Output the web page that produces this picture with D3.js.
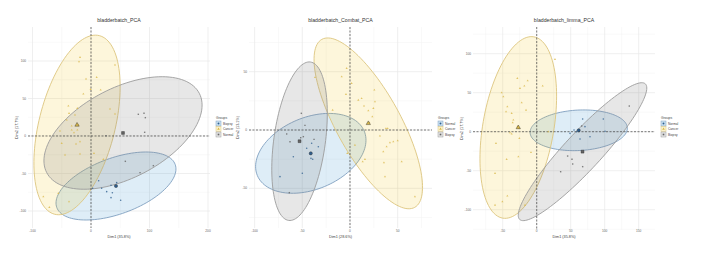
<!DOCTYPE html>
<html><head><meta charset="utf-8">
<script src="https://cdn.jsdelivr.net/npm/d3@7"></script>
<style>html,body{margin:0;padding:0;background:#fff;}svg{display:block;font-family:"Liberation Sans",Arial,sans-serif;}</style>
</head><body>
<svg id="chart" width="720" height="259"></svg>
<script>
// ---------------- DATA ----------------
const titles = ["bladderbatch_PCA", "bladderbatch_Combat_PCA", "bladderbatch_limma_PCA"];
const xAxisLabels = ["Dim1 (35.8%)", "Dim1 (28.6%)", "Dim1 (35.8%)"];
const yAxisLabels = ["Dim2 (17.7%)", "Dim2 (13.1%)", "Dim2 (17.7%)"];
const legendTitle = "Groups";
const groupNames = [["Biopsy", "Cancer", "Normal"], ["Normal", "Cancer", "Biopsy"], ["Normal", "Cancer", "Biopsy"]];
const groupColors = ["#0073C2", "#EFC000", "#868686"];

const xTicks = [[-100, 0, 100, 200], [-100, -50, 0, 50], [-50, 0, 50, 100, 150]];
const yTicks = [[-100, -50, 0, 50, 100], [-50, 0, 50], [-100, -50, 0, 50, 100]];
const xDomains = [[-107.7, 203.4], [-105.9, 86.0], [-93.7, 174.0]];
const yDomains = [[-122.7, 145.3], [-84.0, 88.3], [-126.0, 134.2]];

// plot 1 : group 0 blue, 1 yellow, 2 gray
const pca1_g0 = [[13.1,-59.6],[34.2,-65.8],[36.5,-75.6],[34.2,-82.2],[50.7,-85.8],[18.2,-69.8],[2.8,-69.8],[43.9,-62.2],[26.8,-74.2]];
const pca1_g1 = [[-18.8,104.9],[-20.5,99.1],[41.0,94.7],[-8.5,76.0],[9.7,78.2],[16.5,61.3],[-0.6,62.2],[-13.1,56.0],[-38.7,40.0],[-23.4,36.9],
  [32.5,36.0],[41.0,29.3],[-37.6,30.2],[-27.4,28.0],[-41.6,21.3],[-33.0,13.3],[-21.7,14.7],[-53.0,6.7],[-33.0,8.0],[-29.1,4.4],
  [-23.4,8.0],[-50.1,-9.8],[-25.6,-10.7],[-18.8,-7.6],[-44.4,-25.3],[-18.8,-24.0],[5.1,-23.1],[21.1,-31.1],[-81.5,-80.9],[-55.8,-76.4],
  [-71.2,-95.1],[-37.6,-87.6]];
const pca1_g2 = [[80.9,28.9],[90.6,30.2],[92.9,24.4],[91.7,4.9],[25.6,0.4],[58.7,-33.8],[106.6,-39.6],[83.8,-48.9]];
const pca1_centroids = [[42.7,-66.7],[-23.9,14.7],[54.7,4.0]];
// ellipses: centre and two conjugate semi-axis vectors, in data units
const pca1_ellipses = [
  {cx:42.7, cy:-66.7, ux:101.2, uy:28.7, vx:-16.4, vy:35.1},
  {cx:-23.9, cy:14.7, ux:38.1, uy:119.1, vx:-63.1, vy:12.3},
  {cx:54.7, cy:4.0, ux:130.4, uy:52.9, vx:-35.6, vy:53.2}];

// plot 2
const pca2_g0 = [[-40.9,-24.3],[-39.1,-25.1],[-50.0,-37.1],[-73.4,-40.0],[-40.2,-11.4],[-41.9,-20.6],[-59.4,-22.9],[-45.4,-15.7],[-33.2,-14.3]];
const pca2_g1 = [[-36.7,45.1],[-8.7,45.7],[-3.5,52.9],[1.7,40.0],[-4.2,30.6],[12.2,27.1],[25.5,34.3],[26.2,24.3],[24.5,18.6],[14.7,20.6],
  [19.2,16.6],[23.4,11.4],[20.3,6.3],[37.7,1.4],[39.5,1.4],[31.4,-5.1],[41.9,-10.9],[45.4,-10.0],[50.0,-9.1],[38.4,-14.3],
  [34.9,-18.6],[54.2,-27.1],[35.6,-28.0],[15.7,-25.1],[13.3,-27.1],[36.7,-40.0],[68.1,-57.1],[5.2,-12.9],[-2.8,-20.0],[-18.2,17.1],[8.7,25.7]];
const pca2_g2 = [[-51.0,14.3],[-47.2,4.0],[-66.4,-3.4],[-62.9,-10.0],[-51.7,-6.6],[-48.9,-5.7],[-37.7,-8.0],[-63.6,-53.7]];
const pca2_centroids = [[-41.1,-20.0],[19.2,5.7],[-52.9,-9.6]];
const pca2_ellipses = [
  {cx:-41.1, cy:-20.0, ux:56.0, uy:19.1, vx:-14.6, vy:28.4},
  {cx:19.2, cy:5.7, ux:48.7, uy:-72.0, vx:29.4, vy:13.3},
  {cx:-52.9, cy:-9.6, ux:11.4, uy:67.9, vx:-26.8, vy:3.0}];

// plot 3
const pca3_g0 = [[67.6,16.3],[54.9,2.2],[98.0,16.3],[100.5,0.5],[63.7,-9.4],[58.8,0.0],[71.0,6.5],[49.0,-2.1],[78.4,-6.4]];
const pca3_g1 = [[26.9,92.8],[-28.5,68.4],[-13.3,65.4],[-18.2,58.6],[-51.5,50.0],[-49.1,44.9],[-24.6,55.6],[8.8,58.6],[-43.2,32.1],[-36.8,23.5],
  [-22.1,37.2],[-15.7,27.8],[-45.1,25.7],[-34.4,15.0],[-28.0,6.5],[-26.0,4.3],[-39.3,-1.2],[-36.8,-2.9],[-59.9,-14.9],[-25.5,-8.5],
  [-8.4,-26.5],[-44.2,-35.4],[-27.0,-32.0],[-61.3,-53.4],[-43.2,-82.4],[-50.5,-89.7],[-17.2,-94.0],[-61.3,-94.0],[17.1,0.0],[-35.3,11.6]];
const pca3_g2 = [[45.5,-31.2],[51.9,-35.4],[52.9,-41.4],[35.2,-51.3],[67.6,-44.8],[67.1,-25.6],[136.2,32.9],[66.1,7.3]];
const pca3_centroids = [[61.8,1.8],[-27.1,5.4],[67.4,-25.6]];
const pca3_ellipses = [
  {cx:61.8, cy:1.8, ux:71.5, uy:3.2, vx:-1.6, vy:25.9},
  {cx:-27.1, cy:5.4, ux:22.9, uy:116.2, vx:-51.5, vy:7.7},
  {cx:67.4, cy:-25.6, ux:92.4, uy:86.9, vx:-20.0, vy:16.2}];

// ---------------- LAYOUT ----------------
const boxes = [
  {left:28, right:210, top:27, bottom:228},
  {left:249, right:432, top:27, bottom:228},
  {left:473, right:655, top:27, bottom:230}];
const plots = [
  {groups:[pca1_g0, pca1_g1, pca1_g2], centroids:pca1_centroids, ellipses:pca1_ellipses},
  {groups:[pca2_g0, pca2_g1, pca2_g2], centroids:pca2_centroids, ellipses:pca2_ellipses},
  {groups:[pca3_g0, pca3_g1, pca3_g2], centroids:pca3_centroids, ellipses:pca3_ellipses}];
const shapes = [d3.symbolCircle, d3.symbolTriangle, d3.symbolSquare];
const fillOpacity = [0.13, 0.14, 0.2];
const strokeColors = ["#7f9fbf", "#dcc57e", "#9c9c9c"];
const pointColors = ["#2f5f8f", "#d9b84a", "#666666"];

const svg = d3.select("#chart");

plots.forEach((p, i) => {
  const b = boxes[i];
  const x = d3.scaleLinear().domain(xDomains[i]).range([b.left, b.right]);
  const y = d3.scaleLinear().domain(yDomains[i]).range([b.bottom, b.top]);
  const g = svg.append("g");

  const minor = (ticks, dom) => {
    const step = ticks[1] - ticks[0];
    const out = [];
    for (let v = ticks[0] - step / 2; v <= dom[1]; v += step) if (v >= dom[0]) out.push(v);
    return out;
  };
  g.selectAll(".vmin").data(minor(xTicks[i], xDomains[i])).join("line")
    .attr("x1", d => x(d)).attr("x2", d => x(d)).attr("y1", b.top).attr("y2", b.bottom)
    .attr("stroke", "#f3f3f3").attr("stroke-width", 0.5);
  g.selectAll(".hmin").data(minor(yTicks[i], yDomains[i])).join("line")
    .attr("y1", d => y(d)).attr("y2", d => y(d)).attr("x1", b.left).attr("x2", b.right)
    .attr("stroke", "#f3f3f3").attr("stroke-width", 0.5);
  g.selectAll(".vmaj").data(xTicks[i]).join("line")
    .attr("x1", d => x(d)).attr("x2", d => x(d)).attr("y1", b.top).attr("y2", b.bottom)
    .attr("stroke", "#e8e8e8").attr("stroke-width", 0.7);
  g.selectAll(".hmaj").data(yTicks[i]).join("line")
    .attr("y1", d => y(d)).attr("y2", d => y(d)).attr("x1", b.left).attr("x2", b.right)
    .attr("stroke", "#e8e8e8").attr("stroke-width", 0.7);

  const line = d3.line().x(d => x(d[0])).y(d => y(d[1])).curve(d3.curveLinearClosed);
  p.ellipses.forEach((e, k) => {
    const pts = d3.range(0, 120).map(j => {
      const t = j / 120 * 2 * Math.PI;
      return [e.cx + e.ux * Math.cos(t) + e.vx * Math.sin(t), e.cy + e.uy * Math.cos(t) + e.vy * Math.sin(t)];
    });
    g.append("path").attr("d", line(pts))
      .attr("fill", groupColors[k]).attr("fill-opacity", fillOpacity[k])
      .attr("stroke", strokeColors[k]).attr("stroke-width", 0.9);
  });

  g.append("line").attr("x1", x(0)).attr("x2", x(0)).attr("y1", b.top).attr("y2", b.bottom)
    .attr("stroke", "#444").attr("stroke-width", 0.7).attr("stroke-dasharray", "2,1.5");
  g.append("line").attr("y1", y(0)).attr("y2", y(0)).attr("x1", b.left).attr("x2", b.right)
    .attr("stroke", "#444").attr("stroke-width", 0.7).attr("stroke-dasharray", "2,1.5");

  p.groups.forEach((pts, k) => {
    g.selectAll(null).data(pts).join("path")
      .attr("transform", d => `translate(${x(d[0])},${y(d[1])})`)
      .attr("d", d3.symbol().type(shapes[k]).size(2))
      .attr("fill", pointColors[k]).attr("fill-opacity", 0.8);
  });
  p.centroids.forEach((c, k) => {
    g.append("path").attr("transform", `translate(${x(c[0])},${y(c[1])})`)
      .attr("d", d3.symbol().type(shapes[k]).size(8))
      .attr("fill", pointColors[k]).attr("stroke", "#222").attr("stroke-width", 0.4);
  });

  g.selectAll(".xt").data(xTicks[i]).join("text")
    .attr("x", d => x(d)).attr("y", 232).attr("text-anchor", "middle")
    .attr("font-size", 3.2).attr("fill", "#666").text(d => d);
  g.selectAll(".yt").data(yTicks[i]).join("text")
    .attr("x", b.left - 2).attr("y", d => y(d) + 1.1).attr("text-anchor", "end")
    .attr("font-size", 3.2).attr("fill", "#666").text(d => d);

  const cx = (b.left + b.right) / 2;
  g.append("text").attr("x", cx).attr("y", 22).attr("text-anchor", "middle")
    .attr("font-size", 5.2).attr("fill", "#333").text(titles[i]);
  g.append("text").attr("x", cx).attr("y", 238).attr("text-anchor", "middle")
    .attr("font-size", 3.8).attr("fill", "#444").text(xAxisLabels[i]);
  const yc = (b.top + b.bottom) / 2;
  g.append("text").attr("transform", `translate(${b.left - 10},${yc}) rotate(-90)`)
    .attr("text-anchor", "middle").attr("font-size", 3.8).attr("fill", "#444").text(yAxisLabels[i]);

  const lx = b.right + 6, ly = 117;
  const lg = g.append("g");
  lg.append("text").attr("x", lx).attr("y", ly + 2).attr("font-size", 3.4).attr("fill", "#444").text(legendTitle);
  groupNames[i].forEach((name, k) => {
    const ky = ly + 4 + k * 5.5;
    lg.append("rect").attr("x", lx).attr("y", ky).attr("width", 5).attr("height", 5)
      .attr("fill", groupColors[k]).attr("fill-opacity", 0.2)
      .attr("stroke", strokeColors[k]).attr("stroke-width", 0.5);
    lg.append("path").attr("transform", `translate(${lx + 2.5},${ky + 2.5})`)
      .attr("d", d3.symbol().type(shapes[k]).size(3)).attr("fill", pointColors[k]);
    lg.append("text").attr("x", lx + 7).attr("y", ky + 3.7).attr("font-size", 3.2).attr("fill", "#444").text(name);
  });
});
</script>
</body></html>
